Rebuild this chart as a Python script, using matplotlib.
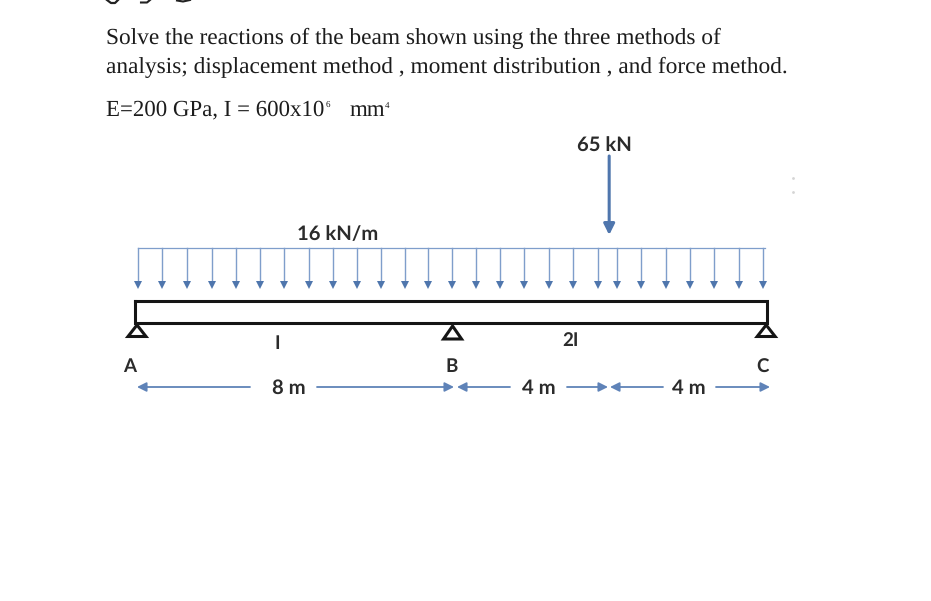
import matplotlib
matplotlib.use("Agg")
import matplotlib.pyplot as plt
from matplotlib.patches import Polygon

plt.rcParams["text.hinting"] = "none"

# beam geometry in metres
span_lengths = [8, 4, 4]
support_names = ["A", "B", "C"]
point_load_kn = 65
point_load_pos = 12
udl_kn_m = 16
udl_arrow_pos = [0.03, 0.64, 1.28, 1.90, 2.51, 3.13, 3.74, 4.38, 4.99, 5.61, 6.22, 6.83, 7.41,
                 8.03, 8.64, 9.25, 9.87, 10.50, 11.12, 11.74, 12.24, 12.84, 13.49, 14.10, 14.71,
                 15.33, 15.94]

question_lines = [
    "Solve the reactions of the beam shown using the three methods of",
    "analysis; displacement method , moment distribution , and force method.",
]

BLUE = "#4f76ad"
LIGHT = "#7f9ecb"
DIM = "#5f83b8"
INK = "#2b2b2b"
BEAM = "#151515"
W, H = 931, 601
PX_PER_M = 39.25
X0, Y0 = 137, 323  # pixel position of the left end of the beam underside


def my(py):
    # pixel row to height in metres above the beam underside
    return (Y0 - py) / PX_PER_M


def mx(px):
    return (px - X0) / PX_PER_M


def label(ax, px, py, s, size=14.6):
    ax.text(mx(px), my(py + 1), s, family="Lato", fontweight="bold", fontsize=size, color=INK,
            ha="center", va="center")


def serif(ax, px, py, s, size=16.85):
    ax.text(mx(px), my(py), s, family="Liberation Serif", fontsize=size, color="#1c1c1c",
            ha="left", va="baseline")


def arrow(ax, x1, x2, y1, y2, color, lw, size):
    ax.annotate("", xy=(x2, y2), xytext=(x1, y1),
                arrowprops=dict(arrowstyle=f"-|>,head_width={size * 0.5},head_length={size}",
                                color=color, lw=lw, shrinkA=0, shrinkB=0))


def support(ax, x, base_px, apex_px):
    half = 9 / PX_PER_M
    ax.add_patch(Polygon([(x - half, my(base_px)), (x + half, my(base_px)), (x, my(apex_px))],
                         closed=True, fill=False, edgecolor=BEAM, lw=2.2, zorder=3))


def main():
    fig = plt.figure(figsize=(W / 100, H / 100), dpi=100)
    ax = fig.add_axes([0, 0, 1, 1])
    ax.set_xlim(mx(0), mx(W))
    ax.set_ylim(my(H), my(0))
    ax.axis("off")

    # bits of a cropped line at the very top
    ax.plot([mx(107), mx(111), mx(115), mx(118)], [my(0), my(3), my(3), my(0)], color="#222222", lw=1.6)
    ax.plot([mx(141), mx(147), mx(150)], [my(2.5), my(2.5), my(0)], color="#222222", lw=1.5)
    ax.plot([mx(177), mx(183), mx(190)], [my(0.5), my(1.5), my(0)], color="#222222", lw=1.5)
    # faint specks on the right
    ax.plot([mx(793), mx(793)], [my(178), my(192)], ls="none", marker=".", ms=2, color="#d5d5d5")

    # question text
    serif(ax, 106.5, 44, question_lines[0])
    serif(ax, 106.5, 73, question_lines[1])
    serif(ax, 106.5, 115.5, "E=200 GPa, I = 600x10", 16.5)
    serif(ax, 326, 108, "6", 6.5)
    serif(ax, 350, 115.5, "mm", 16.5)
    serif(ax, 385, 108, "4", 6.5)

    total = sum(span_lengths)
    ends = [0, span_lengths[0], total]

    # beam outline
    ax.plot([mx(135), mx(767), mx(767), mx(135), mx(135)],
            [my(301), my(301), 0, 0, my(301)], color=BEAM, lw=2.2, solid_joinstyle="miter")

    # supports
    support(ax, ends[0], 336.5, 325)
    support(ax, ends[1] + 0.04, 339, 326)
    support(ax, ends[2] + 0.03, 336.5, 325)

    # distributed load
    ax.plot([udl_arrow_pos[0], udl_arrow_pos[-1] + 0.05], [my(247.5), my(247.5)], color=LIGHT, lw=0.9)
    for x in udl_arrow_pos:
        ax.plot([x, x], [my(247.5), my(283)], color=LIGHT, lw=1.0)
        ax.plot([x], [my(285)], marker="v", ms=6, color=BLUE, mew=0, ls="none")
    label(ax, 337.5, 233, f"{udl_kn_m} kN/m")

    # point load
    arrow(ax, point_load_pos + 0.03, point_load_pos + 0.03, my(156), my(235), BLUE, 2.2, 0.65)
    label(ax, 604, 145, f"{point_load_kn} kN")

    # stiffness and support labels
    label(ax, 277, 343, "I", 13.5)
    label(ax, 571, 340, "2I", 13.5)
    label(ax, 130, 366, support_names[0], 13.5)
    label(ax, 452, 366, support_names[1], 13.5)
    label(ax, 762, 366, support_names[2], 13.5)

    # dimension lines, each span split around its label
    y_dim = my(387)
    arrow(ax, mx(250), mx(137), y_dim, y_dim, DIM, 1.3, 0.55)
    arrow(ax, mx(317), mx(454), y_dim, y_dim, DIM, 1.3, 0.55)
    arrow(ax, mx(510), mx(457), y_dim, y_dim, DIM, 1.3, 0.55)
    arrow(ax, mx(567), mx(608), y_dim, y_dim, DIM, 1.3, 0.55)
    arrow(ax, mx(663), mx(610), y_dim, y_dim, DIM, 1.3, 0.55)
    arrow(ax, mx(716), mx(770), y_dim, y_dim, DIM, 1.3, 0.55)
    label(ax, 289, 387, f"{span_lengths[0]} m")
    label(ax, 539, 387, f"{span_lengths[1]} m")
    label(ax, 689, 387, f"{span_lengths[2]} m")

    fig.savefig("out.png", dpi=100, facecolor="white")


if __name__ == "__main__":
    main()
